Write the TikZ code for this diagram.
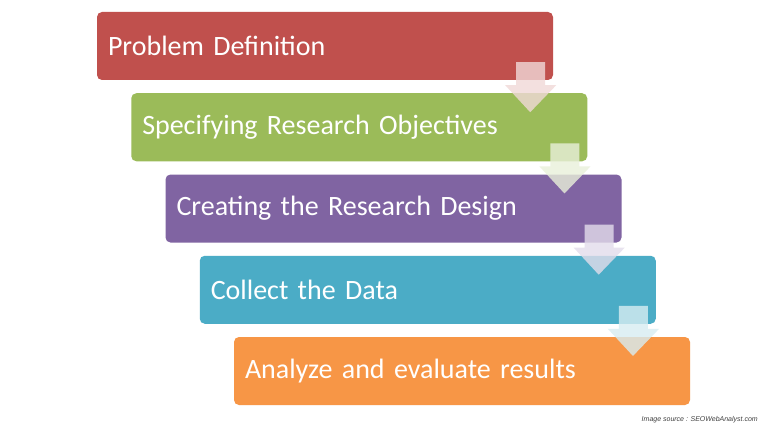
\documentclass[tikz,border=0pt]{standalone}
\usepackage{fontspec}
\setmainfont{Carlito}
\newfontfamily\srcfont{Liberation Sans}
\usetikzlibrary{calc}
\definecolor{stepred}{HTML}{C0504D}
\definecolor{stepgreen}{HTML}{9BBB59}
\definecolor{steppurple}{HTML}{8064A2}
\definecolor{stepteal}{HTML}{4BACC6}
\definecolor{steporange}{HTML}{F79646}
\newcommand{\stepfont}{\fontsize{28}{32}\selectfont\spaceskip=0.2em\relax}
\tikzset{
  stepbox/.style={rounded corners=5pt,minimum width=456pt,minimum height=68pt,
    text width=434pt,align=left,inner sep=0pt,text=white,font=\stepfont},
  downarrow/.style={opacity=0.8}
}

\begin{document}
\begin{tikzpicture}[x=1pt,y=1pt]
            \useasboundingbox[fill=white] (0,0) rectangle (768,432);

            % steps of the process
            \node[stepbox,fill=stepred]    (b1) at (325.0,386.00) {Problem Definition};
            \node[stepbox,fill=stepgreen]  (b2) at (359.25,304.75) {Specifying Research Objectives};
            \node[stepbox,fill=steppurple] (b3) at (393.5,223.50) {Creating the Research Design};
            \node[stepbox,fill=stepteal]   (b4) at (427.75,142.25) {Collect the Data};
            \node[stepbox,fill=steporange] (b5) at (462.0,61.00) {Analyze and evaluate results};

            % arrows from one step to the next
            \foreach \i/\c in {1/stepred,2/stepgreen,3/steppurple,4/stepteal}{
              \fill[downarrow,fill=\c!22!white] ($(b\i.south east)+(-37,18)$) -- ++(29,0) -- ++(0,-23)
                -- ++(11,0) -- ++(-26,-27) -- ++(-25,27) -- ++(11,0) -- cycle;
            }

            \node[anchor=east,inner sep=0pt,font=\srcfont\itshape\fontsize{7}{8}\selectfont,text=black!75] (src) at (758,12) {Image source : SEOWebAnalyst.com};
        \end{tikzpicture}
\end{document}
